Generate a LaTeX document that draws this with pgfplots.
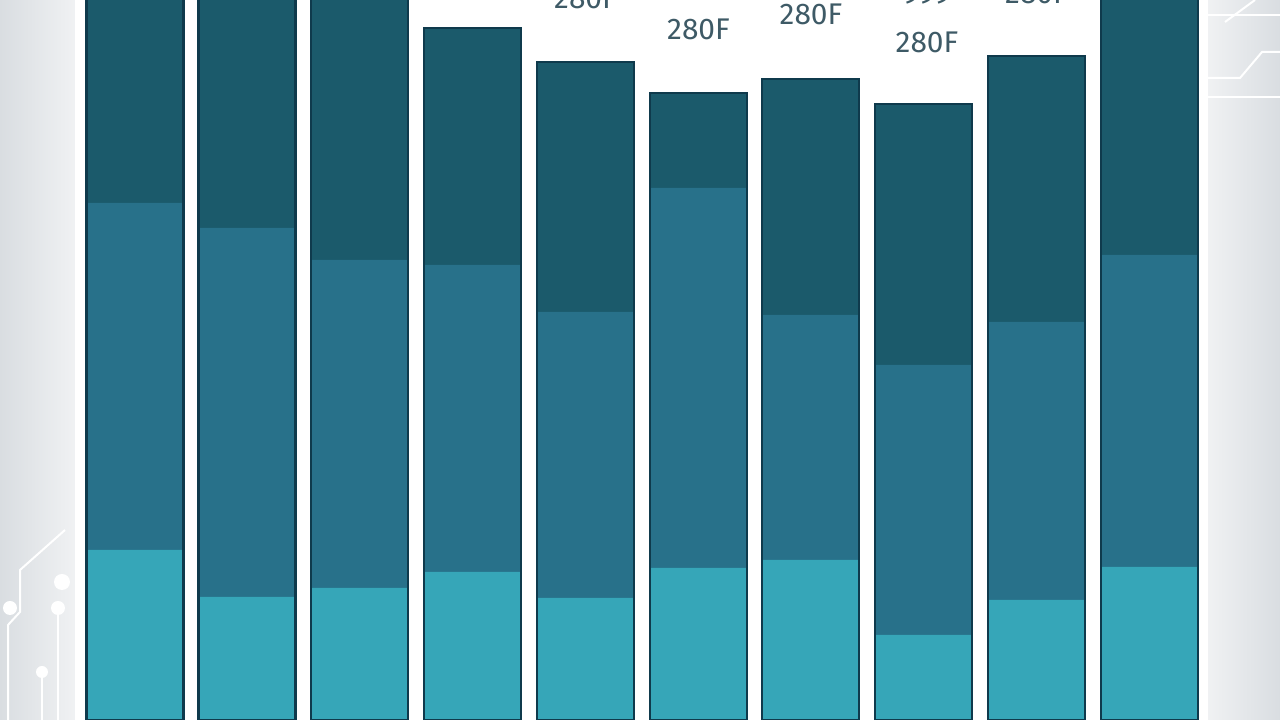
\documentclass[border=0pt]{standalone}
\usepackage{pgfplots}
\pgfplotsset{compat=1.18}
\usepackage{pgfplotstable}
\usepackage{fontspec}
\setmainfont{Fira Sans}

\definecolor{bardark}{HTML}{1B5A6B}
\definecolor{barmid}{HTML}{28718A}
\definecolor{barlight}{HTML}{36A6B8}
\definecolor{edge}{HTML}{0F3A4C}
\definecolor{bggray}{HTML}{D9DDE1}
\definecolor{labelc}{HTML}{3E5A66}

% x = bar centre (px), light / mid / dark = segment heights (px from bottom)
\pgfplotstableread{
x      light mid dark total
135    170   347 223  740
247    123   369 248  740
359.5  132   328 280  740
472.5  148   307 237  692
585.5  122   286 250  658
698.5  152   380  95  627
810.5  160   245 236  641
923.5   85   270 261  616
1036.5 120   278 266  664
1149.5 153   312 275  740
}\bars

\pgfplotsset{
  pxaxis/.style={
    scale only axis, width=1280bp, height=720bp,
    xmin=0, xmax=1280, ymin=0, ymax=720,
    axis lines=none, xtick=\empty, ytick=\empty, clip=true,
    at={(0,0)}, anchor=south west,
  }
}

\begin{document}
\begin{tikzpicture}[x=1bp, y=1bp]
  % backdrop, in picture units (1 unit = 1 px of the reference)
  \fill[left color=bggray, right color=bggray!40] (0,0) rectangle (75,720);
  \fill[white] (75,0) rectangle (1208,720);
  \fill[left color=bggray!40, right color=bggray] (1208,0) rectangle (1280,720);
  \draw[white, line width=2bp] (1200,705) -- (1280,705);
  \draw[white, line width=2bp] (1225,698) -- (1255,720);
  \draw[white, line width=2bp] (1208,642) -- (1240,642) -- (1262,668) -- (1280,668);
  \draw[white, line width=2bp] (1200,623) -- (1280,623);
  \draw[white, line width=2bp] (8,0) -- (8,95) -- (20,108) -- (20,150) -- (65,190);
  \draw[white, line width=2bp] (58,0) -- (58,110);
  \draw[white, line width=2bp] (42,0) -- (42,45);
  \fill[white] (58,112) circle (7);
  \fill[white] (62,138) circle (8);
  \fill[white] (42,48) circle (6);
  \fill[white] (10,112) circle (7);

\begin{axis}[pxaxis, ybar stacked, bar width=97bp]
  \addplot[fill=barlight, draw=none] table[x=x, y=light] {\bars};
  \addplot[fill=barmid, draw=none] table[x=x, y=mid] {\bars};
  \addplot[fill=bardark, draw=none] table[x=x, y=dark] {\bars};
\end{axis}
\begin{axis}[pxaxis, ybar, bar width=97bp]
  \addplot[fill=none, draw=edge, line width=2.5bp] table[x=x, y=total] {\bars};
  \node[font=\fontsize{30}{36}\selectfont, text=labelc] at (axis cs:585.5,722) {280F};
  \node[font=\fontsize{30}{36}\selectfont, text=labelc] at (axis cs:698.5,691) {280F};
  \node[font=\fontsize{30}{36}\selectfont, text=labelc] at (axis cs:811,706) {280F};
  \node[font=\fontsize{30}{36}\selectfont, text=labelc] at (axis cs:927,726) {999};
  \node[font=\fontsize{30}{36}\selectfont, text=labelc] at (axis cs:927,678) {280F};
  \node[font=\fontsize{30}{36}\selectfont, text=labelc] at (axis cs:1036.5,727) {280F};
\end{axis}
\pgfresetboundingbox
\useasboundingbox (0,0) rectangle (1280,720);
\end{tikzpicture}
\end{document}
